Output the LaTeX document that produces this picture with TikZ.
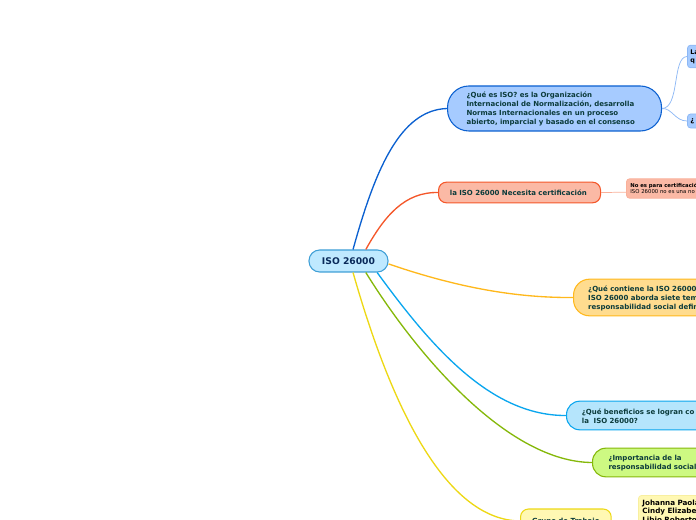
\documentclass[tikz,border=0pt]{standalone}
\usepackage{fontspec}
\setmainfont{DejaVu Sans}
\definecolor{rootfill}{HTML}{BFE9FF}
\definecolor{rootline}{HTML}{3F9FD6}
\definecolor{bluefill}{HTML}{A6CBFF}
\definecolor{blueline}{HTML}{0B60D0}
\definecolor{bluesoft}{HTML}{8DB8F5}
\definecolor{redfill}{HTML}{FBB9A5}
\definecolor{redline}{HTML}{F4572A}
\definecolor{redsoft}{HTML}{F9B09A}
\definecolor{goldfill}{HTML}{FFDC8F}
\definecolor{goldline}{HTML}{FFB81C}
\definecolor{cyanfill}{HTML}{B5E5FC}
\definecolor{cyanline}{HTML}{0AA6EE}
\definecolor{limefill}{HTML}{CDF982}
\definecolor{limeline}{HTML}{85B80A}
\definecolor{yellowfill}{HTML}{FFF8B3}
\definecolor{yellowline}{HTML}{EDD815}
\definecolor{yellowsoft}{HTML}{F8EFA0}
\definecolor{darktext}{HTML}{0B3B3B}
\definecolor{roottext}{HTML}{0A2A5A}
\tikzset{
    branch/.style={draw,line width=.8pt,anchor=west,align=left,text=darktext,text height=5.2pt,
        font=\fontsize{5.25pt}{6.75pt}\selectfont\bfseries},
    leaf/.style={draw,line width=.6pt,anchor=west,align=left,text=black,rounded corners=2.5pt},
    link/.style={line width=1pt},
    sublink/.style={line width=.55pt}
}
\begin{document}
\begin{tikzpicture}[x=.75pt,y=-.75pt]
    \useasboundingbox (0,0) rectangle (696,520);
    \clip (0,0) rectangle (696,520);
    % central topic
    \node[draw=rootline,fill=rootfill,line width=.8pt,rounded corners=8pt,text=roottext,
        font=\fontsize{6.9pt}{8pt}\selectfont\bfseries,minimum width=59.25pt,minimum height=16.5pt]
        (root) at (348.5,261) {ISO 26000};
    % main branches
    \node[branch,draw=blueline,fill=bluefill,rounded corners=16pt,text width=132pt,inner xsep=14.25pt,
        minimum height=33.75pt] (queiso) at (447,108.5)
        {¿Qué es ISO? es la Organización\\Internacional de Normalización, desarrolla\\Normas Internacionales en un proceso\\abierto, imparcial y basado en el consenso};
    \node[branch,draw=redline,fill=redfill,rounded corners=6pt,text width=110.5pt,inner xsep=5.5pt,
        minimum height=15.5pt] (certif) at (438,192.5)
        {\hspace{3pt}la ISO 26000 Necesita certificación};
    \node[branch,draw=goldline,fill=goldfill,rounded corners=12pt,text width=110pt,inner xsep=11pt,
        minimum height=27.5pt] (contiene) at (573,297.5)
        {¿Qué contiene la ISO 26000\\ISO 26000 aborda siete tem\\responsabilidad social defin};
    \node[branch,draw=cyanline,fill=cyanfill,rounded corners=10pt,text width=110pt,inner xsep=11.5pt,
        minimum height=21.5pt] (beneficios) at (566,415.5)
        {¿Qué beneficios se logran co\\la\ \ ISO 26000?};
    \node[branch,draw=limeline,fill=limefill,rounded corners=10pt,text width=110pt,inner xsep=12pt,
        minimum height=21.5pt] (importancia) at (592,462.5)
        {¿Importancia de la\\responsabilidad social};
    \node[branch,draw=yellowline,fill=yellowfill,rounded corners=6pt,text width=58pt,inner xsep=5pt,
        minimum height=18pt,align=center] (grupo) at (520,521)
        {Grupo de Trabajo};
    % sub branches
    \node[leaf,draw=bluesoft,fill=bluefill,text width=30pt,inner xsep=2.25pt,minimum height=14.25pt,
        font=\fontsize{4.8pt}{5.8pt}\selectfont\bfseries] (queiso1) at (687,56.5) {La\\q};
    \node[leaf,draw=bluesoft,fill=bluefill,text width=30pt,inner xsep=2.25pt,minimum height=10.5pt,
        font=\fontsize{5.2pt}{5.8pt}\selectfont\bfseries] (queiso2) at (687,121) {¿};
    \node[leaf,draw=redsoft,fill=redfill,text width=70pt,inner xsep=3pt,minimum height=14.25pt,
        font=\fontsize{4pt}{4.7pt}\selectfont] (certif1) at (626,188.5)
        {\textbf{No es para certificació}\\ISO 26000 no es una no};
    \node[leaf,draw=yellowsoft,fill=yellowfill,text width=70pt,inner xsep=3pt,inner ysep=3.2pt,anchor=north west,
        font=\fontsize{5.4pt}{6.5pt}\selectfont\bfseries] (grupo1) at (638,495)
        {Johanna Paola\\Cindy Elizabet\\Libio Roberto\\\strut};
    % connectors
    \draw[link,blueline] ([xshift=3.4pt]root.north) .. controls (375,170) and (400,110) .. (queiso.west);
    \draw[link,redline] ([xshift=13pt]root.north) .. controls (385,215) and (405,192) .. (certif.west);
    \draw[link,goldline] ([yshift=-2.2pt]root.east) .. controls (450,285) and (510,298) .. (contiene.west);
    \draw[link,cyanline] ([xshift=21.5pt]root.south) .. controls (430,345) and (490,416) .. (beneficios.west);
    \draw[link,limeline] ([xshift=13pt]root.south) .. controls (420,360) and (510,462) .. (importancia.west);
    \draw[link,yellowline] ([xshift=3.4pt]root.south) .. controls (395,420) and (450,520) .. (grupo.west);
    \draw[sublink,bluesoft] (queiso.east) .. controls (680,108) and (672,57) .. (queiso1.west);
    \draw[sublink,bluesoft] (queiso.east) .. controls (672,108) and (675,121) .. (queiso2.west);
    \draw[sublink,redsoft] (certif.east) -- ([yshift=-2.8pt]certif1.west);
    \draw[sublink,yellowsoft] (grupo.east) -- (grupo.east -| grupo1.west);
\end{tikzpicture}
\end{document}
